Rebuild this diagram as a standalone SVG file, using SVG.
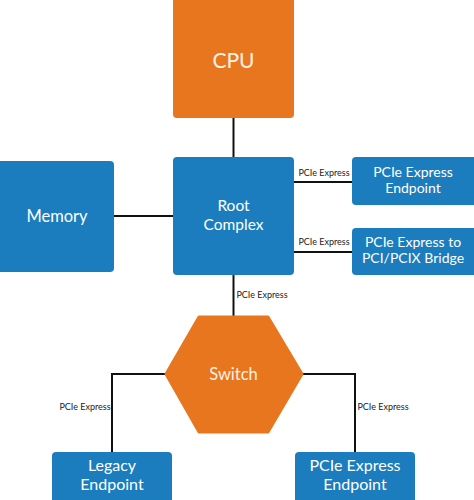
<svg xmlns="http://www.w3.org/2000/svg" width="474" height="500" viewBox="0 0 474 500">
<style>
.blue{fill:#1b7dbd}
.orange{fill:#e8761f}
.t{font-family:Lato,"Liberation Sans",sans-serif;fill:#ffffff;text-anchor:middle}
.to{font-family:Lato,"Liberation Sans",sans-serif;fill:#fff3e3;text-anchor:middle}
.lbl{font-family:Lato,"Liberation Sans",sans-serif;font-size:9px;fill:#222;text-anchor:middle}
.c{stroke:#111;stroke-width:2;fill:none}
</style>
<rect width="474" height="500" fill="#ffffff"/>
<g id="connectors">
<line class="c" x1="233.5" y1="118" x2="233.5" y2="157"/>
<line class="c" x1="114" y1="216" x2="173" y2="216"/>
<line class="c" x1="294" y1="182" x2="352" y2="182"/>
<line class="c" x1="294" y1="252" x2="352" y2="252"/>
<line class="c" x1="233.5" y1="275" x2="233.5" y2="317"/>
<polyline class="c" points="166,374 112,374 112,452"/>
<polyline class="c" points="302,374 355,374 355,452"/>
<text class="lbl" x="324" y="176">PCIe Express</text>
<text class="lbl" x="324" y="245">PCIe Express</text>
<text class="lbl" x="262" y="298">PCIe Express</text>
<text class="lbl" x="85" y="410">PCIe Express</text>
<text class="lbl" x="383" y="410">PCIe Express</text>
</g>
<g id="cpu">
<rect class="orange" x="173" y="-5" width="121" height="123" rx="4"/>
<text class="to" x="233.5" y="68" font-size="21">CPU</text>
</g>
<g id="root-complex">
<rect class="blue" x="173" y="157" width="121" height="118" rx="4"/>
<text class="t" x="233.5" y="211" font-size="15.5">Root</text>
<text class="t" x="233.5" y="230" font-size="15.5">Complex</text>
</g>
<g id="memory">
<rect class="blue" x="-5" y="161" width="119" height="111" rx="4"/>
<text class="t" x="57" y="222" font-size="16.5">Memory</text>
</g>
<g id="pcie-endpoint-top">
<rect class="blue" x="352" y="157" width="127" height="48" rx="4"/>
<text class="t" x="413" y="177" font-size="14">PCIe Express</text>
<text class="t" x="413" y="193" font-size="14">Endpoint</text>
</g>
<g id="pcie-bridge">
<rect class="blue" x="352" y="228" width="127" height="47" rx="4"/>
<text class="t" x="413" y="247" font-size="14">PCIe Express to</text>
<text class="t" x="413" y="263" font-size="14">PCI/PCIX Bridge</text>
</g>
<g id="switch">
<polygon class="orange" points="199,317 268,317 302,374 268,432 199,432 166,374" stroke="#e8761f" stroke-width="3" stroke-linejoin="round"/>
<text class="to" x="233.5" y="380" font-size="16.5">Switch</text>
</g>
<g id="legacy-endpoint">
<rect class="blue" x="52" y="452" width="120" height="55" rx="4"/>
<text class="t" x="112" y="471" font-size="16">Legacy</text>
<text class="t" x="112" y="490" font-size="16">Endpoint</text>
</g>
<g id="pcie-endpoint-bottom">
<rect class="blue" x="295" y="452" width="120" height="55" rx="4"/>
<text class="t" x="355" y="471" font-size="16">PCIe Express</text>
<text class="t" x="355" y="490" font-size="16">Endpoint</text>
</g>
</svg>
